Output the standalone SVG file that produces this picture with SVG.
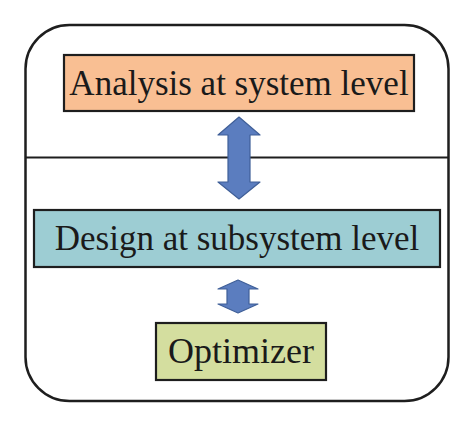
<svg xmlns="http://www.w3.org/2000/svg" width="474" height="428" viewBox="0 0 474 428">
<style>
.frame{fill:#ffffff;stroke:#1e1e1e;stroke-width:2.5}
.box{stroke:#1e1e1e;stroke-width:2.2}
.lbl{font-family:"Liberation Serif","Times New Roman",serif;font-size:35px;fill:#1a1a1a;text-anchor:middle}
.arrow{fill:#5b7dbf;stroke:#3f5f98;stroke-width:1.2;stroke-linejoin:round}
</style>
<rect width="474" height="428" fill="#ffffff"/>
<g id="frame">
<rect class="frame" x="25.5" y="25" width="423" height="376" rx="44" ry="44"/>
<line x1="25.5" y1="157.5" x2="448.5" y2="157.5" stroke="#1e1e1e" stroke-width="2"/>
</g>
<g id="connectors">
<path class="arrow" d="M239,117 L260,135 L250,135 L250,182 L260,182 L239,199 L218,182 L228,182 L228,135 L218,135 Z"/>
<path class="arrow" d="M238,280 L258,289 L249,289 L249,304 L258,304 L238,313 L218,304 L227,304 L227,289 L218,289 Z"/>
</g>
<g id="analysis">
<rect class="box" x="64" y="55" width="350" height="56" fill="#f9bf93"/>
<text class="lbl" x="239" y="95">Analysis at system level</text>
</g>
<g id="design">
<rect class="box" x="34" y="210" width="406" height="57" fill="#9dcdd3"/>
<text class="lbl" x="237" y="250">Design at subsystem level</text>
</g>
<g id="optimizer">
<rect class="box" x="156" y="323" width="170" height="57" fill="#d4de9f"/>
<text class="lbl" x="241" y="363" style="font-size:36px">Optimizer</text>
</g>
</svg>
